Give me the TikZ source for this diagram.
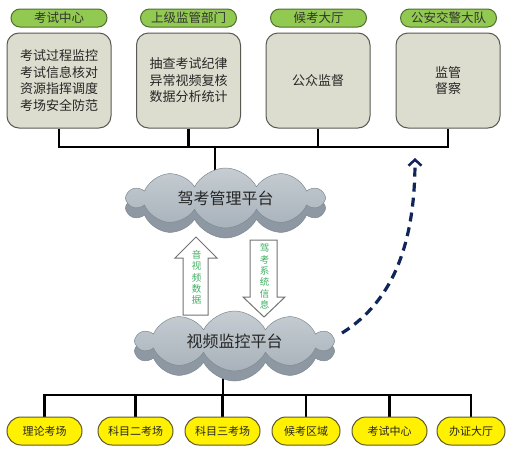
\documentclass[tikz,border=0pt]{standalone}
\usepackage{fontspec}
\setmainfont{Noto Sans CJK SC}
\usetikzlibrary{shapes.symbols,shapes.misc,arrows.meta,backgrounds}
\definecolor{lgreen}{HTML}{92C950}
\definecolor{dgreen}{HTML}{4F6F2E}
\definecolor{boxgray}{HTML}{DCDDCE}
\definecolor{boxedge}{HTML}{5A5A55}
\definecolor{yel}{HTML}{FFF100}
\definecolor{yeledge}{HTML}{5E5A2A}
\definecolor{cloudtop}{HTML}{C6CDD3}
\definecolor{cloudbot}{HTML}{A8B2BA}
\definecolor{cloudside}{HTML}{8D98A2}
\definecolor{cloudedge}{HTML}{7E8992}
\definecolor{navy}{HTML}{10265A}
\definecolor{txtgreen}{HTML}{3FAE62}
\tikzset{
  toplabel/.style={rounded rectangle, draw=dgreen, line width=1pt, fill=lgreen,
    minimum width=96pt, minimum height=18pt, inner sep=0pt, font=\fontsize{12.5}{14}\selectfont, text=black!80},
  graybox/.style={rectangle, rounded corners=12pt, draw=boxedge, line width=1pt, fill=boxgray,
    minimum width=104pt, minimum height=95pt, inner sep=0pt, align=center,
    font=\fontsize{13}{16.5}\selectfont, text=black!85},
  yelbox/.style={rounded rectangle, draw=yeledge, line width=1pt, fill=yel,
    minimum height=28pt, inner sep=0pt, font=\fontsize{11}{13}\selectfont, text=black!85},
  cloudbase/.style={cloud, cloud puffs=10, cloud puff arc=125, cloud ignores aspect,
    minimum width=195pt, minimum height=60pt, inner sep=0pt, draw=cloudedge, line width=0.5pt},
  cloudface/.style={cloudbase, top color=cloudtop, bottom color=cloudbot,
    font=\fontsize{16}{18}\selectfont, text=black!85},
  cloudshadow/.style={cloudbase, fill=cloudside},
  bus/.style={line width=2.8pt, black},
  hollow/.style={draw=black!55, line width=1pt, fill=white},
  vtext/.style={align=center, text=txtgreen, font=\fontsize{9.5}{11.4}\selectfont, inner sep=0pt},
}
\begin{document}
\begin{tikzpicture}[x=1pt,y=-1pt]
\useasboundingbox (0,0) rectangle (510,453);
\begin{scope}[on background layer]
\fill[white] (0,0) rectangle (510,453);
\end{scope}

% top labels and boxes
\node[toplabel] (l1) at (59,18) {考试中心};
\node[toplabel] (l2) at (188.5,18) {上级监管部门};
\node[toplabel] (l3) at (318.5,18) {候考大厅};
\node[toplabel] (l4) at (448.5,18) {公安交警大队};
\node[graybox] (b1) at (59,80.5) {考试过程监控\\考试信息核对\\资源指挥调度\\考场安全防范};
\node[graybox] (b2) at (188.5,80.5) {抽查考试纪律\\异常视频复核\\数据分析统计};
\node[graybox] (b3) at (318,80.5) {公众监督};
\node[graybox] (b4) at (448,80.5) {监管\\督察};

% hollow arrows (behind clouds)
\draw[hollow] (183,315) -- (183,258) -- (175,258) -- (196,237) -- (217,258) -- (208,258) -- (208,315) -- cycle;
\draw[hollow] (250,240) -- (250,297) -- (243,297) -- (264,317) -- (285,297) -- (277,297) -- (277,240) -- cycle;
\node[vtext] (t1) at (196.5,277.5) {音\\视\\频\\数\\据};
\node[vtext] (t2) at (264.5,276.5) {驾\\考\\系\\统\\信\\息};

% clouds
\node[cloudshadow] (c1s) at (225.5,208) {};
\node[cloudface] (c1) at (225.5,198) {驾考管理平台};
\node[cloudshadow] (c2s) at (234.5,351) {};
\node[cloudface] (c2) at (234.5,341) {视频监控平台};

% bottom boxes
\node[yelbox, minimum width=75pt] (y1) at (44.5,431) {理论考场};
\node[yelbox, minimum width=75pt] (y2) at (135.5,431) {科目二考场};
\node[yelbox, minimum width=75pt] (y3) at (222.5,431) {科目三考场};
\node[yelbox, minimum width=68pt] (y4) at (306,431) {候考区域};
\node[yelbox, minimum width=75pt] (y5) at (389.5,431) {考试中心};
\node[yelbox, minimum width=68pt] (y6) at (471,431) {办证大厅};

\coordinate (busT) at (215,147);
\coordinate (busB) at (223,395);
\begin{scope}[on background layer]
\draw[bus] (b1.south) |- (b4.south |- busT) -- (b4.south);
\draw[bus] (b2.south) -- (b2.south |- busT);
\draw[bus] (b3.south) -- (b3.south |- busT);
\draw[bus] (busT) -- (busT |- c1.center);
\draw[bus] (y1.north) |- (y6.north |- busB) -- (y6.north);
\foreach \n in {y2,y3,y4,y5} \draw[bus] (\n.north) -- (\n.north |- busB);
\draw[bus] (busB) -- (busB |- c2.center);
\end{scope}

% dashed arrow
\coordinate (dS) at (342,333);
\coordinate (dE) at (415,158);
\draw[navy, line width=3.2pt, dash pattern=on 9pt off 6pt,
  -{Straight Barb[length=6pt,width=13pt,line width=2.5pt]}]
  (dS) .. controls (395,300) and (415,240) .. (dE);
\end{tikzpicture}
\end{document}
